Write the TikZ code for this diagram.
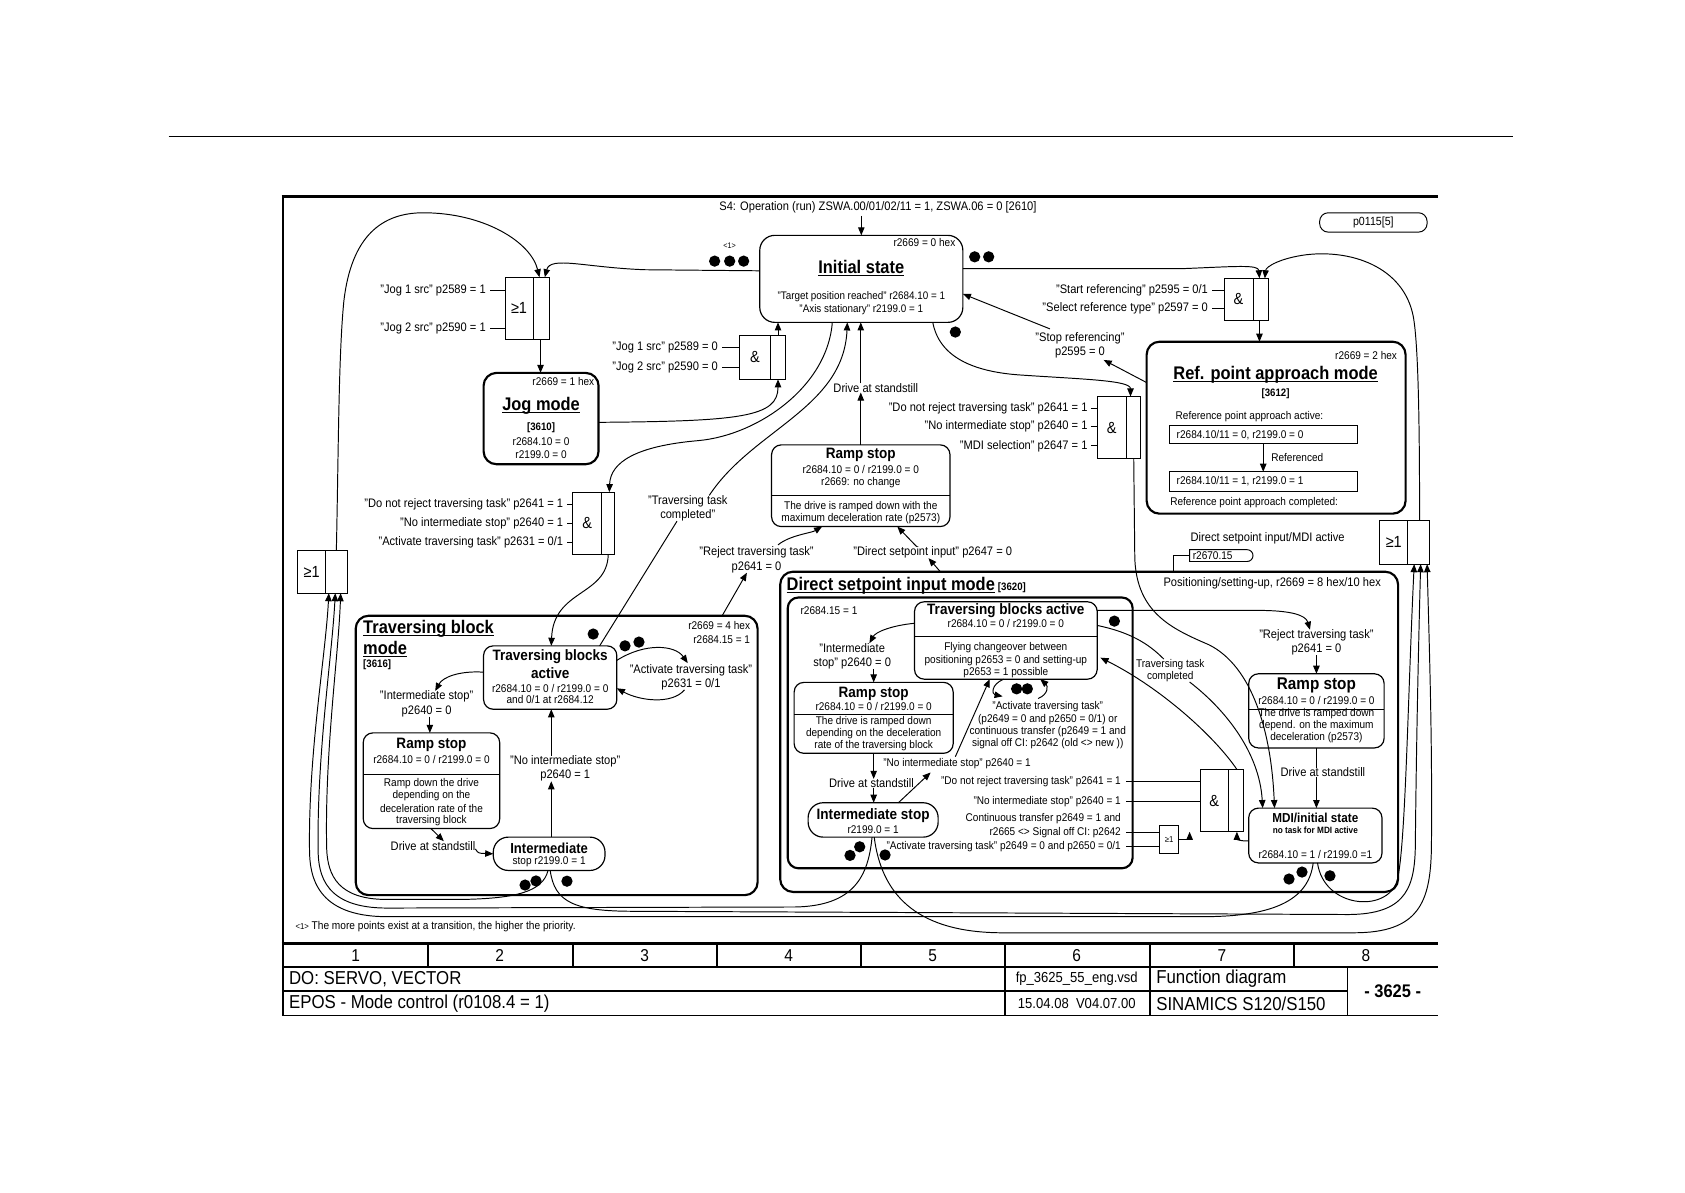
\documentclass[tikz,border=0pt]{standalone}
\usepackage{fontspec}
\setmainfont{Liberation Sans}[FakeStretch=0.9]
\usetikzlibrary{arrows.meta,shapes.misc}
\newcommand\fsz[2]{\fontsize{#1}{#2}\selectfont}
\newcommand\uln[1]{\setbox0\hbox{#1}\rlap{\rule[-2.3pt]{\wd0}{1.2pt}}\box0}
\newcommand\bx[6]{\node[#6, anchor=north west, minimum width={#4-#2}, minimum height={#5-#3}] (#1) at (#2,#3) {};}
\newcommand\gate[7]{\node[gt, anchor=north west, minimum width={#4-#2}, minimum height={#6-#3}] (#1) at (#2,#3) {#7};\node[gt, anchor=north west, minimum width={#5-#4}, minimum height={#6-#3}] (#1o) at (#4,#3) {};}
\begin{document}
\begin{tikzpicture}[x=1pt,y=-1pt,
 every node/.style={inner sep=0pt, outer sep=0pt},
 lab/.style={font=\fsz{11.5}{13.2}, align=center},
 sm/.style={font=\fsz{10.4}{11.6}, align=center},
 ttl/.style={font=\fsz{17}{20}\bfseries},
 sub/.style={font=\fsz{14}{16}\bfseries, align=center},
 st/.style={draw, line width=1.1pt, rounded corners=9pt},
 md/.style={draw, line width=2pt, rounded corners=12pt},
 gt/.style={draw, line width=0.9pt, font=\fsz{15}{17}},
 conn/.style={line width=0.9pt},
 arr/.style={conn, -{Triangle[length=7.5pt,width=6pt]}},
 dot/.style={circle, fill, minimum size=10.5pt}]
\fill[white] (0,0) rectangle (1568,1110);
\useasboundingbox (0,0) rectangle (1568,1110);
% header rule and frame
\draw[line width=1.2pt] (157,127) -- (1408,127);
\draw[line width=3pt] (262,183) -- (1338,183);
\draw[line width=1.8pt] (263,182) -- (263,945);

% ---------- top ----------
\node[lab] (s4) at (817,193) {S4: Operation (run) ZSWA.00/01/02/11 = 1, ZSWA.06 = 0 [2610]};
\node[draw, line width=0.9pt, rounded corners=8pt, minimum width=100, minimum height=18, font=\fsz{11}{13}] (p0115) at (1278,207) {p0115[5]};
\node[font=\fsz{7.5}{9}] (prio) at (679,229) {<1>};
\node[dot] (d1) at (665,243) {};
\node[dot] (d2) at (679,243) {};
\node[dot] (d3) at (692,243) {};
\node[dot] (d4) at (907,239) {};
\node[dot] (d5) at (920,239) {};
\node[dot] (d6) at (889,309) {};

% initial state
\bx{init}{707}{219}{896}{300}{st, rounded corners=14pt}
\node[sm, anchor=east] (initT1) at (889,226) {r2669 = 0 hex};
\node[ttl] (initT2) at (801.5,249.5) {\uln{Initial state}};
\node[font=\fsz{10.2}{12}] (initT3) at (801.5,276.5) {"Target position reached" r2684.10 = 1};
\node[font=\fsz{10.2}{12}] (initT4) at (801.5,288) {"Axis stationary" r2199.0 = 1};
\coordinate (s4a) at (801.5,201);
\draw[arr] (s4a) -- (s4a |- init.north);

% jog gate
\gate{jogor}{470}{258}{496}{511}{316}{≥1}
\node[lab, anchor=east] (jin1) at (452,270) {"Jog 1 src" p2589 = 1};
\node[lab, anchor=east] (jin2) at (452,306) {"Jog 2 src" p2590 = 1};
\draw[conn] ([xshift=4pt]jin1.east) -- (jin1.east -| jogor.west);
\draw[conn] ([xshift=4pt]jin2.east) -- (jin2.east -| jogor.west);

% jog mode
\bx{jog}{450}{347}{557}{432}{md}
\node[sm, anchor=east] (jogT1) at (553,355) {r2669 = 1 hex};
\node[ttl] (jogT2) at (503.5,378) {\uln{Jog mode}};
\node[font=\fsz{10}{12}\bfseries] (jogT3) at (503.5,398) {[3610]};
\node[sm] (jogT4) at (503.5,411) {r2684.10 = 0};
\node[sm] (jogT5) at (503.5,423) {r2199.0 = 0};
\coordinate (jo) at ([xshift=-8pt]jogoro.south east);
\draw[arr] (jo) -- (jo |- jog.north);

% jog exit gate
\gate{jogand}{688}{312}{717}{731}{353}{\&}
\node[lab, anchor=east] (jain1) at (668,323) {"Jog 1 src" p2589 = 0};
\node[lab, anchor=east] (jain2) at (668,342) {"Jog 2 src" p2590 = 0};
\draw[conn] ([xshift=4pt]jain1.east) -- (jain1.east -| jogand.west);
\draw[conn] ([xshift=4pt]jain2.east) -- (jain2.east -| jogand.west);
\coordinate (jao) at ([xshift=-7pt]jogando.north east);
\draw[arr] (jao) -- (jao |- init.south);
\draw[arr] ([yshift=-3.5pt]jog.east) .. controls (690,392) and (724,388) .. ([xshift=-7pt]jogando.south east);
\draw[arr] ([yshift=7.5pt]init.west) -- (600,251) .. controls (545,249) and (512,238) .. ([xshift=-4pt]jogoro.north east);

% left / right OR gates
\gate{leftor}{277}{512}{303}{323}{552}{≥1}
\gate{rightor}{1284}{484}{1310}{1330}{525}{≥1}
\draw[arr] ([xshift=-10pt]leftoro.north east) .. controls (315,420) and (315,330) .. (320,280) .. controls (327,220) and (355,198) .. (394,198) .. controls (450,198) and (494,225) .. ([xshift=-9pt]jogoro.north east);

% reference gate
\gate{refand}{1139}{259}{1166}{1180}{298}{\&}
\node[lab, anchor=east] (rin1) at (1124,270) {"Start referencing" p2595 = 0/1};
\node[lab, anchor=east] (rin2) at (1124,287) {"Select reference type" p2597 = 0};
\draw[conn] ([xshift=4pt]rin1.east) -- (rin1.east -| refand.west);
\draw[conn] ([xshift=4pt]rin2.east) -- (rin2.east -| refand.west);
\draw[arr] ([yshift=9.5pt]init.east) -- (1100,250) .. controls (1150,248) and (1171,246) .. ([xshift=-8pt]refando.north east);
\draw[arr] ([xshift=-9pt]rightoro.north east) .. controls (1321,400) and (1320,330) .. (1316,300) .. controls (1310,250) and (1260,232) .. (1216,237) .. controls (1192,240) and (1178,248) .. ([xshift=-3pt]refando.north east);
\coordinate (ro) at ([xshift=-8pt]refando.south east);

% ref point approach mode
\bx{refm}{1067}{318}{1308}{478}{md}
\draw[arr] (ro) -- (ro |- refm.north);
\node[sm, anchor=east] (rmT1) at (1300,331) {r2669 = 2 hex};
\node[ttl] (rmT2) at (1187,349) {\uln{Ref. point approach mode}};
\node[font=\fsz{10}{12}\bfseries] (rmT3) at (1187,366) {[3612]};
\node[sm, anchor=west] (rmT4) at (1094,388) {Reference point approach active:};
\bx{ra}{1088}{396}{1263}{413}{draw, line width=0.8pt}
\node[sm, anchor=west] (raT) at (1095,404.5) {r2684.10/11 = 0, r2199.0 = 0};
\bx{rb}{1088}{439}{1263}{457}{draw, line width=0.8pt}
\node[sm, anchor=west] (rbT) at (1095,448) {r2684.10/11 = 1, r2199.0 = 1};
\draw[arr] (ra.south) -- (rb.north);
\node[sm, anchor=west] (rmT5) at (1183,426) {Referenced};
\node[sm, anchor=west] (rmT6) at (1089,468) {Reference point approach completed:};

% stop referencing
\node[lab] (stopref) at (1005,321) {"Stop referencing"\\p2595 = 0};
\draw[arr] ([yshift=42pt]refm.west) -- ([xshift=22pt,yshift=-2pt]stopref.south);
\draw[arr] ([xshift=-28pt,yshift=3pt]stopref.north) -- ([yshift=-14pt]init.east);

% MDI gate
\gate{mdiand}{1021}{369}{1048}{1061}{427}{\&}
\node[lab, anchor=east] (min1) at (1012,380) {"Do not reject traversing task" p2641 = 1};
\node[lab, anchor=east] (min2) at (1012,397) {"No intermediate stop" p2640 = 1};
\node[lab, anchor=east] (min3) at (1012,415) {"MDI selection" p2647 = 1};
\draw[conn] ([xshift=3pt]min1.east) -- (min1.east -| mdiand.west);
\draw[conn] ([xshift=3pt]min2.east) -- (min2.east -| mdiand.west);
\draw[conn] ([xshift=3pt]min3.east) -- (min3.east -| mdiand.west);
\draw[arr] ([xshift=-28pt]init.south east) .. controls (874,332) and (905,346) .. (950,349) .. controls (1010,353) and (1052,354) .. ([xshift=-9pt]mdiando.north east);

% central ramp stop
\bx{rampc}{718}{414}{884}{490}{st}
\draw[conn] ([yshift=-9pt]rampc.west) -- ([yshift=-9pt]rampc.east);
\node[sub] (rcT1) at (801,423.5) {Ramp stop};
\node[sm] (rcT2) at (801,437) {r2684.10 = 0 / r2199.0 = 0};
\node[sm] (rcT3) at (801,449) {r2669: no change};
\node[sm] (rcT4) at (801,471) {The drive is ramped down with the};
\node[sm] (rcT5) at (801,483) {maximum deceleration rate (p2573)};
\node[lab] (das1) at (815,361) {Drive at standstill};
\draw[arr] (rampc.north) -- (rampc.north |- das1.south);
\draw[arr] (rampc.north |- das1.north) -- (rampc.north |- init.south);

\node[lab] (rejtbm) at (704,521) {"Reject traversing task"\\p2641 = 0};
\draw[arr] ([xshift=20pt,yshift=2pt]rejtbm.north) .. controls (735,498) and (755,496) .. ([xshift=47pt]rampc.south west);
\node[lab] (dsip) at (868,514) {"Direct setpoint input" p2647 = 0};
\draw[arr] ([xshift=-15pt]dsip.north) -- ([xshift=117pt]rampc.south west);

% traversing block gate
\gate{tbmand}{533}{458}{560}{572}{516}{\&}
\node[lab, anchor=east] (tin1) at (524,469) {"Do not reject traversing task" p2641 = 1};
\node[lab, anchor=east] (tin2) at (524,487) {"No intermediate stop" p2640 = 1};
\node[lab, anchor=east] (tin3) at (524,505) {"Activate traversing task" p2631 = 0/1};
\draw[conn] ([xshift=4pt]tin1.east) -- (tin1.east -| tbmand.west);
\draw[conn] ([xshift=4pt]tin2.east) -- (tin2.east -| tbmand.west);
\draw[conn] ([xshift=4pt]tin3.east) -- (tin3.east -| tbmand.west);
\draw[arr] ([xshift=-27pt]init.south) .. controls (770,360) and (705,405) .. (650,410) .. controls (592,415) and (568,430) .. ([xshift=-5pt]tbmando.north east);

% traversing block mode
\bx{tbm}{331}{573}{705}{833}{md}
\draw[arr] ([xshift=-33pt]tbm.north east) -- ([xshift=-9pt]rejtbm.south);
\node[ttl, anchor=west] (tbmT1) at (338,585) {\uln{Traversing block}};
\node[ttl, anchor=west] (tbmT2) at (338,604) {\uln{mode}};
\node[font=\fsz{10}{12}\bfseries, anchor=west] (tbmT3) at (338,619) {[3616]};
\node[sm, anchor=east] (tbmT4) at (698,582) {r2669 = 4 hex};
\node[sm, anchor=east] (tbmT5) at (698,595) {r2684.15 = 1};

\bx{tbmtba}{450}{601}{574}{660}{st}
\node[sub] (tbaT1) at (512,611) {Traversing blocks};
\node[sub] (tbaT2) at (512,626) {active};
\node[sm] (tbaT3) at (512,640.5) {r2684.10 = 0 / r2199.0 = 0};
\node[sm] (tbaT4) at (512,651) {and 0/1 at r2684.12};
\draw[arr] ([xshift=-6pt]tbmando.south east) .. controls (565,555) and (515,548) .. ([xshift=63pt]tbmtba.north west);

\node[lab] (ttc1) at (640,473) {"Traversing task\\completed"};
\draw[conn] ([xshift=-16pt]tbmtba.north east) -- ([xshift=-10pt]ttc1.south);
\draw[arr] ([xshift=20pt]ttc1.north) .. controls (700,400) and (785,380) .. ([xshift=-13pt]init.south);

\node[lab] (tbmis) at (397,655) {"Intermediate stop"\\p2640 = 0};
\draw[arr] ([yshift=5pt]tbmtba.west) .. controls (428,624) and (412,630) .. ([xshift=8pt]tbmis.north);
\bx{tbmramp}{338}{682}{465}{771}{st}
\coordinate (tis) at ([xshift=3pt]tbmis.south);
\draw[arr] (tis) -- (tis |- tbmramp.north);
\draw[conn] ([yshift=5.5pt]tbmramp.west) -- ([yshift=5.5pt]tbmramp.east);
\node[sub] (trT1) at (401.5,693) {Ramp stop};
\node[sm] (trT2) at (401.5,706.6) {r2684.10 = 0 / r2199.0 = 0};
\node[sm] (trT3) at (401.5,729.6) {Ramp down the drive};
\node[sm] (trT4) at (401.5,740.7) {depending on the};
\node[sm] (trT5) at (401.5,752) {deceleration rate of the};
\node[sm] (trT6) at (401.5,763.7) {traversing block};
\node[lab] (das2) at (403,787) {Drive at standstill};
\draw[arr] ([xshift=63pt]tbmramp.south west) -- ([xshift=10pt]das2.north);
\bx{tbmint}{459}{779}{563}{810}{st, rounded corners=14pt}
\node[font=\fsz{13.5}{15}\bfseries] (tiT1) at (511,789) {Intermediate};
\node[sm] (tiT2) at (511,802) {stop r2199.0 = 1};
\draw[arr] ([yshift=-3pt]das2.east) .. controls (445,794) .. (tbmint.west);
\node[lab] (tbmnis) at (526,715) {"No intermediate stop"\\p2640 = 1};
\coordinate (tix) at ([xshift=54pt]tbmint.north west);
\draw[arr] (tix) -- (tix |- tbmnis.south);
\draw[arr] (tix |- tbmnis.north) -- (tix |- tbmtba.south);
\node[lab] (tbmact) at (643,630) {"Activate traversing task"\\p2631 = 0/1};
\draw[arr] ([yshift=16pt]tbmtba.east) .. controls (600,598) and (628,600) .. ([xshift=-3pt,yshift=1pt]tbmact.north);
\draw[arr] ([xshift=-6pt]tbmact.south) .. controls (625,656) and (595,652) .. ([yshift=-10pt]tbmtba.east);
\node[dot] (td1) at (552,590) {};
\node[dot] (td2) at (581.6,601) {};
\node[dot] (td3) at (594.6,597.5) {};
\node[dot] (td4) at (488.6,823.6) {};
\node[dot] (td5) at (498.8,819.8) {};
\node[dot] (td6) at (527.6,820) {};

% direct setpoint input mode
\bx{dsi}{726}{532}{1301}{830}{md}
\draw[arr] ([xshift=149pt]dsi.north west) -- ([xshift=-4pt]dsip.south);
\node[ttl, anchor=west] (dsiT) at (732,545) {\uln{Direct setpoint input mode}\,{\fsz{10}{12}[3620]}};
\node[lab, anchor=east] (posT) at (1285,543) {Positioning/setting-up, r2669 = 8 hex/10 hex};
\node[lab, anchor=west] (mdiact) at (1108,501) {Direct setpoint input/MDI active};
\node[draw, line width=0.9pt, rounded rectangle, rounded rectangle west arc=none, minimum width=59, minimum height=11] (r2670) at (1136.5,517) {};
\node[sm, anchor=west] (r2670T) at (1110,517) {r2670.15};
\coordinate (dtop) at (1092,532);
\draw[conn] (r2670.west) -| (dtop);

\bx{dsii}{733}{556}{1054}{808}{md, rounded corners=10pt}
\node[sm, anchor=west] (dsiiT) at (745,568) {r2684.15 = 1};

\bx{dtba}{851}{560}{1021}{632}{st}
\draw[conn] ([yshift=4pt]dtba.west) -- ([yshift=4pt]dtba.east);
\node[sub] (dbT1) at (936,568) {Traversing blocks active};
\node[sm] (dbT2) at (936,580) {r2684.10 = 0 / r2199.0 = 0};
\node[sm] (dbT3) at (936,603) {Flying changeover between};
\node[sm] (dbT4) at (936,615) {positioning p2653 = 0 and setting-up};
\node[sm] (dbT5) at (936,626) {p2653 = 1 possible};
\node[dot] (dd1) at (1037,578) {};
\node[dot] (dd2) at (946,641) {};
\node[dot] (dd3) at (956,641) {};
\coordinate (lpA) at (933,648);
\coordinate (lpB) at (966,650);
\draw[arr] ([xshift=83pt]dtba.south west) .. controls (922,637) and (923,646) .. (lpA);
\draw[arr] (lpB) .. controls (976,646) and (975,638) .. ([xshift=117pt]dtba.south west);
\node[sm] (dact) at (975,675) {"Activate traversing task"\\(p2649 = 0 and p2650 = 0/1) or\\continuous transfer (p2649 = 1 and\\signal off CI: p2642 (old <> new ))};

\node[lab] (dis) at (793,610.5) {"Intermediate\\stop" p2640 = 0};
\draw[arr] ([yshift=16pt]dtba.west) .. controls (830,582) and (815,588) .. ([xshift=16pt]dis.north);
\bx{drmp}{739}{635}{887}{701}{st}
\draw[arr] (drmp.north |- dis.south) -- (drmp.north);
\draw[conn] ([yshift=3pt]drmp.west) -- ([yshift=3pt]drmp.east);
\node[sub] (drT1) at (813,645.5) {Ramp stop};
\node[sm] (drT2) at (813,657.5) {r2684.10 = 0 / r2199.0 = 0};
\node[sm] (drT3) at (813,671.5) {The drive is ramped down};
\node[sm] (drT4) at (813,682.5) {depending on the deceleration};
\node[sm] (drT5) at (813,693.5) {rate of the traversing block};
\node[lab] (das3) at (811,729) {Drive at standstill};
\bx{dint}{752}{747}{873}{779}{st, rounded corners=14pt}
\draw[arr] (drmp.south) -- (drmp.south |- das3.north);
\draw[arr] (drmp.south |- das3.south) -- (drmp.south |- dint.north);
\node[sub] (diT1) at (812.5,759) {Intermediate stop};
\node[sm] (diT2) at (812.5,772) {r2199.0 = 1};
\node[sm, anchor=west] (dnis) at (822,711) {"No intermediate stop" p2640 = 1};
\draw[arr] ([xshift=-37pt]dint.north east) -- ([xshift=44pt,yshift=-3pt]dnis.south west);
\draw[arr] ([xshift=67pt,yshift=2pt]dnis.north west) -- ([xshift=70pt]dtba.south west);
\node[dot] (dd4) at (791,796) {};
\node[dot] (dd5) at (800,788) {};
\node[dot] (dd6) at (823.6,795.6) {};

% MDI internal gate
\gate{dand}{1117}{716}{1143}{1157}{774}{\&}
\node[sm, anchor=east] (din1) at (1043,727) {"Do not reject traversing task" p2641 = 1};
\node[sm, anchor=east] (din2) at (1043,745.5) {"No intermediate stop" p2640 = 1};
\node[sm, anchor=east] (ct1) at (1043,762) {Continuous transfer p2649 = 1 and};
\node[sm, anchor=east] (ct2) at (1043,774.6) {r2665 <> Signal off CI: p2642};
\node[sm, anchor=east] (at4) at (1043,788) {"Activate traversing task" p2649 = 0 and p2650 = 0/1};
\node[gt, font=\fsz{8}{9}, minimum width=18, minimum height=26] (dor) at (1088,781) {≥1};
\draw[conn] ([xshift=5pt]din1.east) -- (din1.east -| dand.west);
\draw[conn] ([xshift=5pt]din2.east) -- (din2.east -| dand.west);
\draw[conn] ([xshift=5pt]ct2.east) -- (ct2.east -| dor.west);
\draw[conn] ([xshift=5pt]at4.east) -- (at4.east -| dor.west);
\draw[arr] (dor.east) -| ([xshift=-10pt]dand.south west);

% right part of DSI
\bx{drmp2}{1162}{627}{1288}{696}{st}
\draw[conn] ([yshift=1.5pt]drmp2.west) -- ([yshift=1.5pt]drmp2.east);
\node[font=\fsz{15.8}{18}\bfseries] (d2T1) at (1225,637.5) {Ramp stop};
\node[sm] (d2T2) at (1225,651.5) {r2684.10 = 0 / r2199.0 = 0};
\node[sm] (d2T3) at (1225,664.5) {The drive is ramped down};
\node[sm] (d2T4) at (1225,675.3) {depend. on the maximum};
\node[sm] (d2T5) at (1225,686.8) {deceleration (p2573)};
\node[lab] (drej) at (1225,598) {"Reject traversing task"\\p2641 = 0};
\draw[arr] (drej.south) -- (drej.south |- drmp2.north);
\draw[arr] ([yshift=-8pt]dtba.north east) -- (1170,568) .. controls (1200,568) and (1215,572) .. ([xshift=-6pt]drej.north);
\node[lab] (das4) at (1231,718.6) {Drive at standstill};
\bx{mdi}{1162}{752}{1286}{803}{st}
\draw[conn] (drmp2.south) -- (drmp2.south |- das4.north);
\draw[arr] (drmp2.south |- das4.south) -- (drmp2.south |- mdi.north);
\node[font=\fsz{12.1}{14}\bfseries] (mdiT1) at (1224,761) {MDI/initial state};
\node[font=\fsz{8.5}{10}\bfseries] (mdiT2) at (1224,773) {no task for MDI active};
\node[sm] (mdiT3) at (1224,794.7) {r2684.10 = 1 / r2199.0 =1};
\node[sm] (dttc) at (1089,624) {Traversing task\\completed};
\draw[conn] ([yshift=14pt]dtba.east) .. controls (1050,588) and (1068,598) .. ([xshift=-6pt]dttc.north);
\draw[arr] ([xshift=18pt]dttc.south) .. controls (1140,660) and (1172,700) .. ([xshift=13pt]mdi.north west);
\draw[arr] ([xshift=-6pt]mdiando.south east) -- (1056,520) .. controls (1058,570) and (1090,585) .. (1125,600) .. controls (1165,620) and (1183,680) .. ([xshift=24pt]mdi.north west);
\draw[arr] ([yshift=-5pt]mdi.west) .. controls (1155,783) and (1151,781) .. ([xshift=-6pt]dando.south east);
\draw[arr] ([xshift=-6pt]dando.north east) .. controls (1130,685) and (1080,640) .. ([xshift=3pt,yshift=-16pt]dtba.east);
\node[dot] (md1) at (1199.5,818) {};
\node[dot] (md2) at (1211.6,811.5) {};
\node[dot] (md3) at (1237.6,815) {};

% bottom return lines
\draw[arr] ([xshift=-1pt]tbmint.south) .. controls (505,830) and (480,836) .. (430,837) -- (360,837) .. controls (315,837) and (305,815) .. (304,790) .. controls (302,700) and (315,610) .. ([xshift=-6pt]leftoro.south east);
\draw[arr] ([xshift=-1pt]dint.south) .. controls (808,815) and (795,843) .. (740,844) -- (360,845) .. controls (303,845) and (296,815) .. (296,790) .. controls (295,700) and (309,610) .. ([xshift=-11pt]leftoro.south east);
\draw[arr] ([xshift=-2pt]mdi.south) .. controls (1218,835) and (1190,853) .. (1120,853) -- (360,853) .. controls (294,853) and (288,815) .. (288,790) .. controls (287,700) and (303,610) .. ([xshift=-17pt]leftoro.south east);
\draw[arr] ([xshift=2pt]mdi.south) .. controls (1232,845) and (1290,850) .. (1300,820) .. controls (1308,790) and (1310,650) .. ([xshift=-14pt]rightoro.south east);
\draw[arr] ([xshift=1pt]tbmint.south) .. controls (516,840) and (535,848) .. (590,848) -- (1250,851) .. controls (1305,852) and (1316,830) .. (1317,790) .. controls (1318,690) and (1320,600) .. ([xshift=-8pt]rightoro.south east);
\draw[arr] ([xshift=1pt]dint.south) .. controls (820,830) and (850,867) .. (930,868) -- (1260,868) .. controls (1320,868) and (1331,840) .. (1332,790) .. controls (1333,690) and (1330,600) .. ([xshift=-2pt]rightoro.south east);

% footnote
\node[font=\fsz{10.5}{12}, anchor=west] (foot) at (275,862) {{\fsz{8}{9}<1>} The more points exist at a transition, the higher the priority.};

% footer table
\draw[line width=2.2pt] (262,878) -- (1338,878);
\draw[line width=1.3pt] (263,900) -- (1338,900);
\draw[line width=1.8pt] (263,922) -- (1254,922);
\draw[line width=0.8pt] (263,945) -- (1338,945);
\foreach \x in {398,533,667,801,935,1070,1204} \draw[line width=1.8pt] (\x,878) -- (\x,900);
\foreach \x in {935,1070,1254} \draw[line width=1.5pt] (\x,900) -- (\x,945);
\foreach \n/\x in {1/331,2/465,3/600,4/734,5/868,6/1002,7/1137,8/1271} \node[font=\fsz{16}{18}] (num\n) at (\x,889.5) {\n};
\node[font=\fsz{17.4}{19}, anchor=west] (fDO) at (269,911) {DO: SERVO, VECTOR};
\node[font=\fsz{17.4}{19}, anchor=west] (fEP) at (269,934) {EPOS - Mode control (r0108.4 = 1)};
\node[font=\fsz{13.5}{15}] (fFP) at (1002,911) {fp\_3625\_55\_eng.vsd};
\node[font=\fsz{13.5}{15}] (fDT) at (1002,934) {15.04.08\ \ V04.07.00};
\node[font=\fsz{17.4}{19}, anchor=west] (fFD) at (1076,911) {Function diagram};
\node[font=\fsz{17.4}{19}, anchor=west] (fSI) at (1076,934) {SINAMICS S120/S150};
\node[font=\fsz{17}{19}\bfseries] (fNR) at (1296,922) {- 3625 -};
\end{tikzpicture}
\end{document}
